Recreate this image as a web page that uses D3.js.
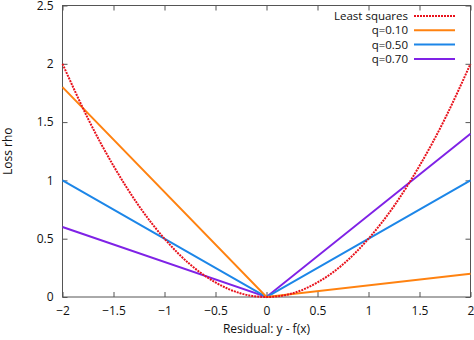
<!DOCTYPE html>
<html>
<head>
<meta charset="utf-8">
<script src="https://cdn.jsdelivr.net/npm/d3@7"></script>
<style>
  body { margin: 0; background: #fff; }
  text { font-family: "Open Sans", "DejaVu Sans", sans-serif; fill: #111; }
</style>
</head>
<body>
<div id="main"></div>
<script>
// residual grid and loss values
const residuals = [-2, -1.75, -1.5, -1.25, -1, -0.75, -0.5, -0.25, 0, 0.25, 0.5, 0.75, 1, 1.25, 1.5, 1.75, 2];
const leastSquares = [2, 1.53, 1.125, 0.78, 0.5, 0.28, 0.125, 0.03, 0, 0.03, 0.125, 0.28, 0.5, 0.78, 1.125, 1.53, 2];
// quantile losses: endpoints and the kink at zero
const qResiduals = [-2, 0, 2];
const q10 = [1.8, 0, 0.2];
const q50 = [1, 0, 1];
const q70 = [0.6, 0, 1.4];

const xTicks = [-2, -1.5, -1, -0.5, 0, 0.5, 1, 1.5, 2];
const yTicks = [0, 0.5, 1, 1.5, 2, 2.5];

const series = [
  { name: "Least squares", xs: residuals, ys: leastSquares, color: "#e8121c", dash: "2,1", curve: d3.curveNatural },
  { name: "q=0.10", xs: qResiduals, ys: q10, color: "#ff8210", dash: null, curve: d3.curveLinear },
  { name: "q=0.50", xs: qResiduals, ys: q50, color: "#1c86e8", dash: null, curve: d3.curveLinear },
  { name: "q=0.70", xs: qResiduals, ys: q70, color: "#7f22e6", dash: null, curve: d3.curveLinear }
];

const W = 474, H = 340;
const m = { left: 62.5, right: 3.5, top: 5.5, bottom: 43 };

const svg = d3.select("#main").append("svg").attr("width", W).attr("height", H);

const x = d3.scaleLinear().domain([-2, 2]).range([m.left, W - m.right]);
const y = d3.scaleLinear().domain([0, 2.5]).range([H - m.bottom, m.top]);

// frame
svg.append("rect")
  .attr("x", m.left).attr("y", m.top)
  .attr("width", W - m.left - m.right).attr("height", H - m.top - m.bottom)
  .attr("fill", "none").attr("stroke", "#555").attr("stroke-width", 1);

// inward ticks on all four sides
const tickLen = 5;
svg.append("g").attr("transform", `translate(0,${y(0)})`)
  .call(d3.axisBottom(x).tickValues(xTicks).tickSize(-tickLen).tickPadding(9).tickFormat(d3.format("")))
  .call(g => g.select(".domain").remove());
svg.append("g").attr("transform", `translate(0,${m.top})`)
  .call(d3.axisTop(x).tickValues(xTicks).tickSize(-tickLen).tickFormat(""))
  .call(g => g.select(".domain").remove());
svg.append("g").attr("transform", `translate(${m.left},0)`)
  .call(d3.axisLeft(y).tickValues(yTicks).tickSize(-tickLen).tickPadding(9).tickFormat(d3.format("")))
  .call(g => g.select(".domain").remove());
svg.append("g").attr("transform", `translate(${W - m.right},0)`)
  .call(d3.axisRight(y).tickValues(yTicks).tickSize(-tickLen).tickFormat(""))
  .call(g => g.select(".domain").remove());

svg.selectAll(".tick line").attr("stroke", "#555");
svg.selectAll(".tick text").attr("font-size", 12).attr("font-family", "\"Open Sans\", sans-serif").attr("fill", "#111");

// curves
const plot = svg.append("g");
series.slice().reverse().forEach(s => {
  plot.append("path")
    .datum(s.xs.map((v, i) => [x(v), y(s.ys[i])]))
    .attr("d", d3.line().curve(s.curve))
    .attr("fill", "none")
    .attr("stroke", s.color)
    .attr("stroke-width", 2)
    .attr("stroke-dasharray", s.dash);
});

// legend
const leg = svg.append("g");
series.forEach((s, i) => {
  const ly = 16 + i * 14.3;
  leg.append("text").attr("x", 408).attr("y", ly).attr("dy", "0.35em")
    .attr("text-anchor", "end").attr("font-size", 11.5).text(s.name);
  leg.append("line").attr("x1", 414).attr("x2", 455).attr("y1", ly).attr("y2", ly)
    .attr("stroke", s.color).attr("stroke-width", 2).attr("stroke-dasharray", s.dash);
});

// axis titles
svg.append("text").attr("x", x(0)).attr("y", 333).attr("text-anchor", "middle")
  .attr("font-size", 12).text("Residual: y - f(x)");
svg.append("text").attr("transform", `translate(12,${(m.top + H - m.bottom) / 2}) rotate(-90)`)
  .attr("text-anchor", "middle").attr("font-size", 12).text("Loss rho");
</script>
</body>
</html>
